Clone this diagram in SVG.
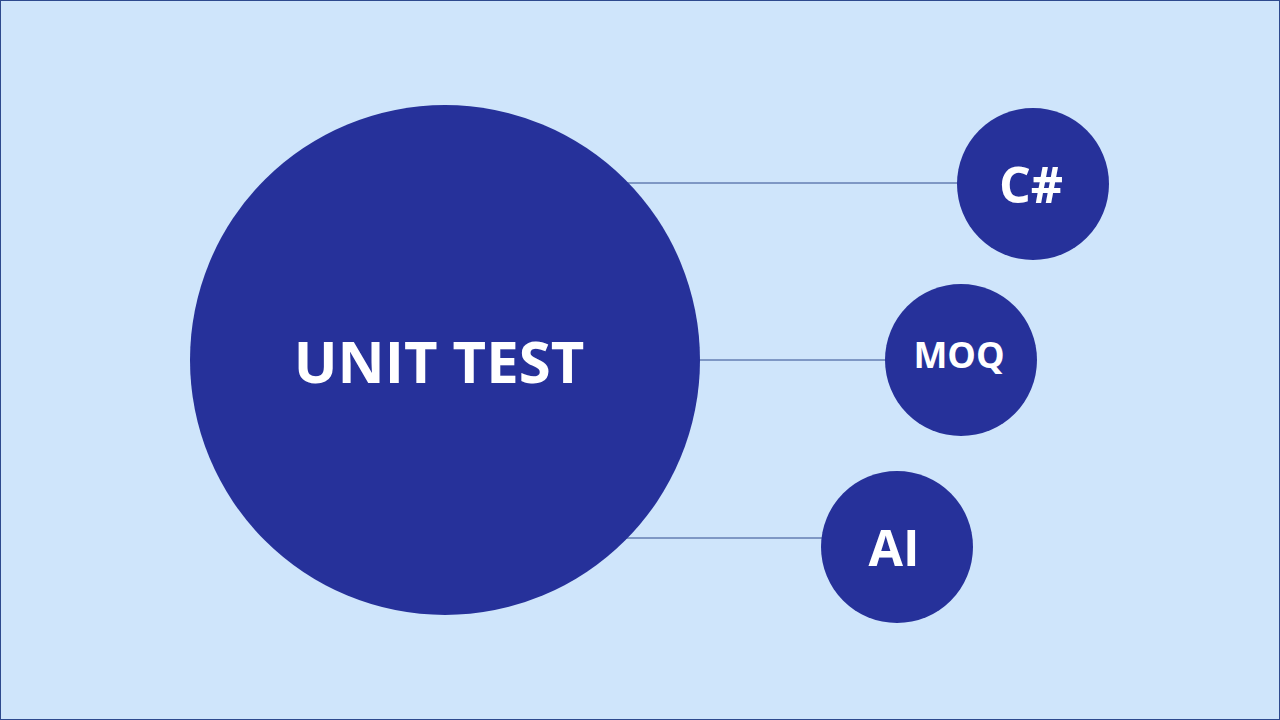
<svg xmlns="http://www.w3.org/2000/svg" width="1280" height="720" viewBox="0 0 1280 720">
<style>
.n{fill:#26319a}
.t{fill:#ffffff;font-family:"Open Sans","Liberation Sans",sans-serif;font-weight:bold;text-anchor:middle;dominant-baseline:central}
.c{stroke:#2e4a8e;stroke-width:1;fill:none}
</style>
<rect x="0.5" y="0.5" width="1279" height="719" fill="#cfe5fb" stroke="#2e4a8e" stroke-width="1"/>
<g id="connectors">
<line class="c" x1="620" y1="183" x2="960" y2="183"/>
<line class="c" x1="698" y1="360" x2="888" y2="360"/>
<line class="c" x1="620" y1="538" x2="824" y2="538"/>
</g>
<g id="unit-test"><circle class="n" cx="445" cy="360" r="255"/><text class="t" x="439" y="360" font-size="58">UNIT TEST</text></g>
<g id="csharp"><circle class="n" cx="1033" cy="184" r="76"/><text class="t" x="1031" y="184" font-size="50">C#</text></g>
<g id="moq"><circle class="n" cx="961" cy="360" r="76"/><text class="t" x="959" y="354" font-size="36">MOQ</text></g>
<g id="ai"><circle class="n" cx="897" cy="547" r="76"/><text class="t" x="894" y="547" font-size="50">AI</text></g>
</svg>
